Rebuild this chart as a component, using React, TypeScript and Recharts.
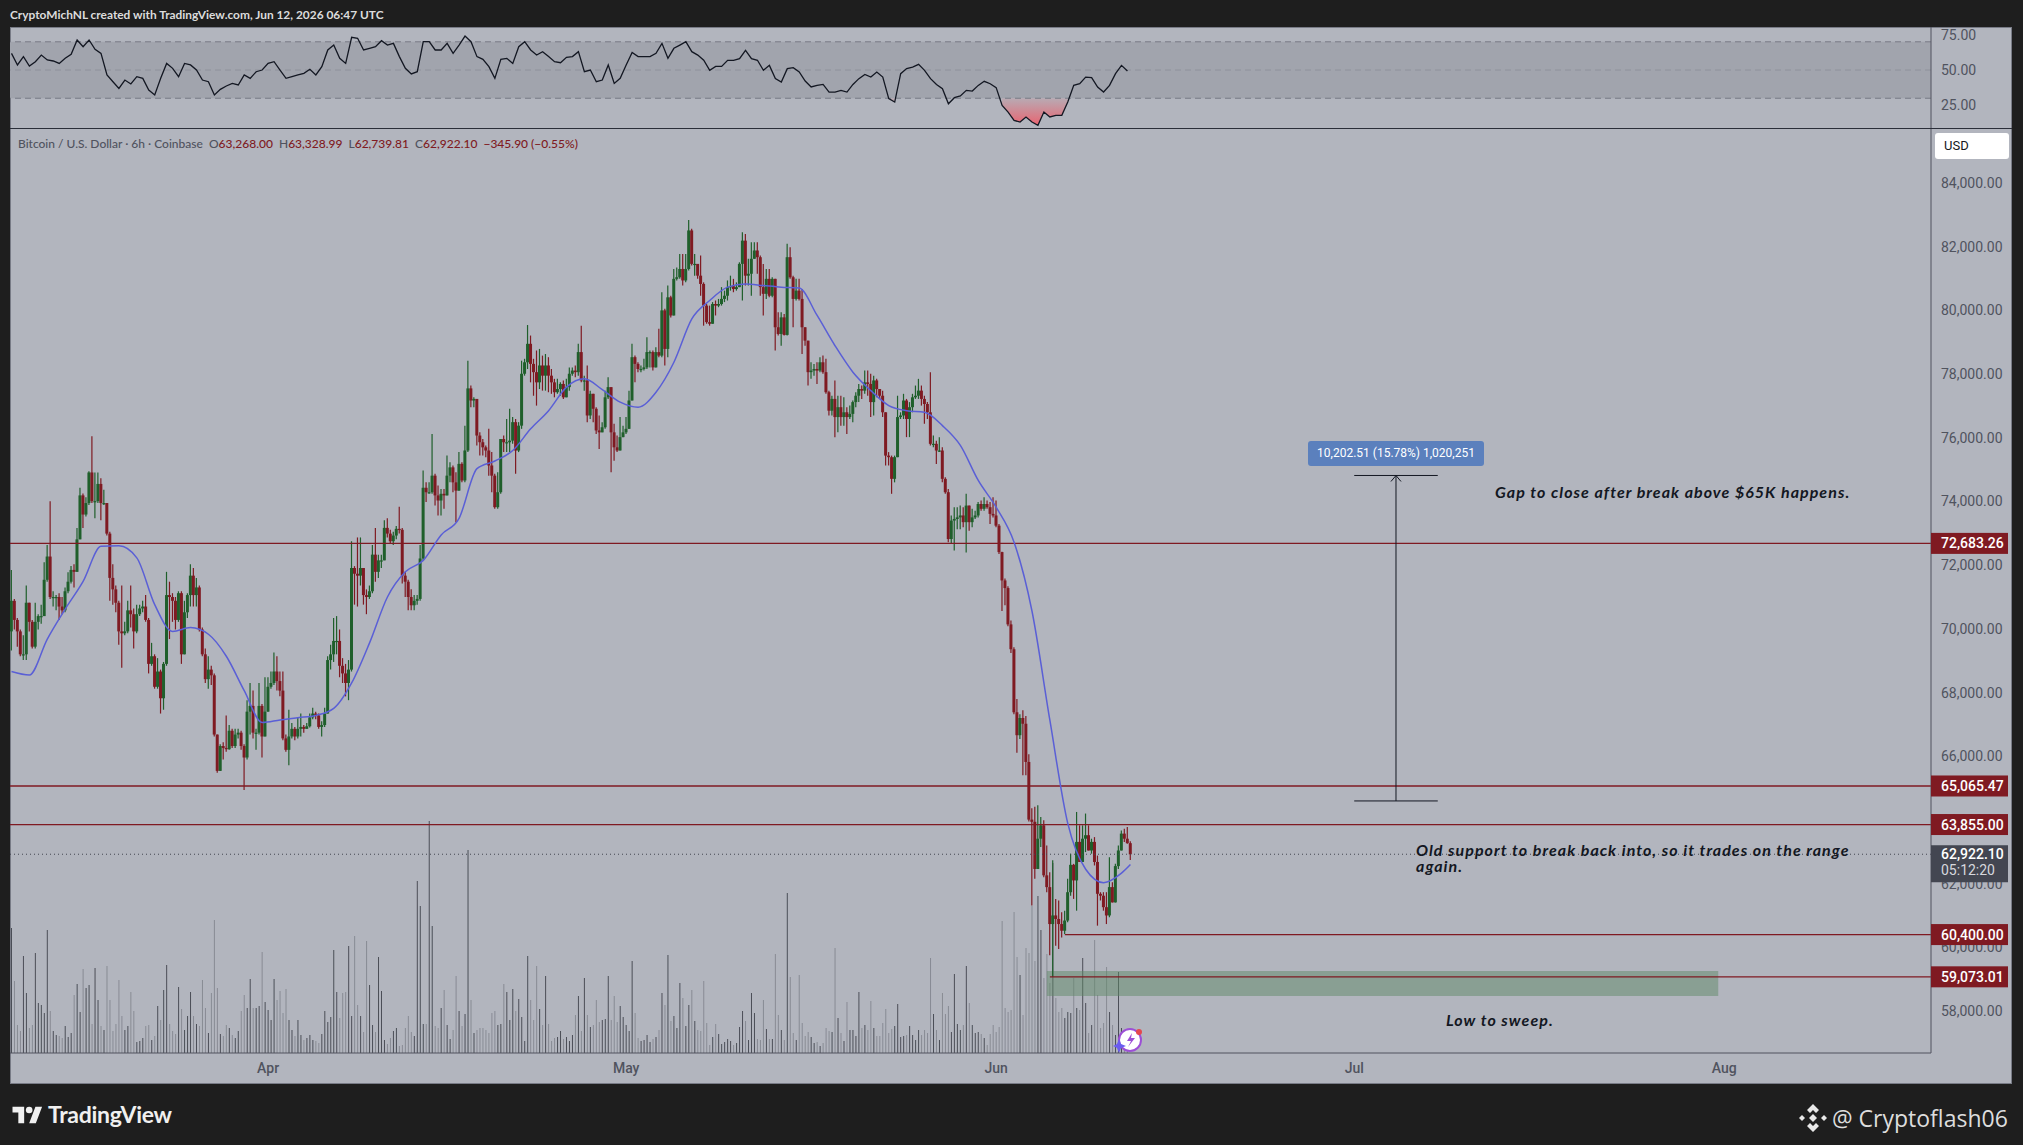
import { Area, Bar, Cell, ComposedChart, Line, ReferenceArea, ReferenceDot, ReferenceLine, XAxis, YAxis } from 'recharts';

// prices are in thousands of USD, one entry per 6h bar
const closes = [
  70.88,70.28,69.92,69.20,69.20,70.82,70.22,69.44,70.22,70.40,70.40,71.54,72.27,71.00,71.00,71.00,70.70,70.58,71.18,71.48,
  71.85,71.79,72.81,74.19,73.59,73.95,74.91,74.01,74.01,74.55,73.95,73.95,72.99,71.60,71.24,70.82,69.92,69.86,69.92,70.58,
  70.46,69.92,70.46,70.64,70.70,70.28,68.90,69.14,68.18,68.66,67.82,68.90,71.06,71.00,70.88,70.28,71.12,69.20,70.52,71.06,
  71.67,71.06,71.30,69.98,69.20,68.42,68.72,68.54,66.68,65.54,66.32,66.26,66.22,66.80,66.32,66.68,66.74,66.32,65.96,67.40,
  67.58,66.74,66.74,67.58,66.62,67.40,68.18,68.30,68.66,68.36,68.06,66.56,66.20,66.62,66.86,66.62,66.86,66.92,66.86,66.94,
  67.22,67.34,67.28,66.92,66.98,67.34,69.02,69.20,69.62,69.62,68.84,68.60,68.30,68.72,71.91,71.73,71.67,71.91,71.06,71.00,
  71.18,72.33,71.79,72.15,72.15,73.17,72.99,72.75,72.93,73.14,73.11,71.67,71.48,71.00,70.74,70.88,70.94,72.21,74.43,74.29,
  74.29,74.81,74.19,74.03,74.24,74.19,74.81,75.07,74.60,74.34,75.18,74.66,75.60,77.55,77.17,77.22,76.07,75.86,75.70,75.60,
  75.13,74.81,73.82,74.29,75.96,75.86,75.86,75.91,76.49,75.60,76.38,78.01,78.37,78.95,78.32,78.06,77.74,78.27,77.95,78.27,
  77.95,77.74,77.43,77.53,77.69,77.27,77.59,78.01,78.11,78.06,78.69,77.80,77.80,76.70,77.38,76.91,76.23,76.17,76.33,77.27,
  77.59,76.17,75.70,75.60,76.02,76.17,76.28,77.17,78.53,78.32,78.16,78.16,78.21,78.69,78.69,78.21,78.69,78.58,80.00,78.79,
  80.41,79.84,80.99,81.04,81.30,80.94,81.30,82.51,81.46,81.46,81.09,80.83,80.15,79.63,79.58,80.20,80.15,80.20,80.36,80.46,
  80.73,80.76,80.67,80.73,81.46,82.19,81.09,81.15,81.62,81.88,81.67,80.73,80.52,80.99,80.46,80.99,79.47,79.26,79.78,79.23,
  81.67,81.04,80.36,80.62,80.36,79.47,79.05,78.06,78.11,78.16,78.11,78.37,78.06,77.43,76.85,77.22,76.65,76.96,76.65,76.80,
  76.65,76.75,77.12,77.32,77.53,77.48,77.74,77.69,77.12,77.80,77.53,77.32,76.80,75.44,75.39,74.71,75.39,76.65,76.70,77.17,
  76.59,76.96,77.27,77.32,77.48,77.22,77.06,76.80,75.81,75.81,75.60,75.60,74.71,74.29,72.82,73.40,73.45,73.50,73.56,73.35,
  73.87,73.35,73.50,73.56,73.92,73.77,73.92,73.82,73.61,73.56,73.24,72.41,71.52,71.28,70.14,69.36,67.38,66.66,67.20,67.02,
  65.82,64.01,63.94,62.46,63.41,63.83,62.26,61.89,60.73,61.00,60.89,60.73,60.52,60.84,61.73,62.59,62.10,63.31,62.68,63.41,
  63.52,63.04,63.31,62.68,61.68,61.62,61.26,61.00,61.89,61.41,62.55,63.04,63.57,63.41,63.27,62.92,
];
const highs = [
  71.85,70.94,70.34,69.98,69.80,71.36,70.82,70.28,70.82,70.46,70.76,72.09,72.63,74.01,71.18,71.06,71.12,71.00,71.30,71.78,
  71.97,72.03,73.17,74.43,74.25,74.13,74.95,76.05,74.91,74.91,74.73,74.37,73.95,73.05,72.03,71.36,70.88,71.36,70.22,70.88,
  71.36,70.64,70.76,70.76,70.88,71.06,70.34,69.56,69.20,69.08,68.72,68.96,71.79,71.48,71.12,71.00,71.18,71.18,70.88,71.12,
  72.03,71.91,71.60,71.36,70.04,69.38,69.14,68.84,68.60,66.68,66.38,66.44,67.28,66.98,66.86,66.86,66.86,66.80,66.38,67.76,
  68.30,68.06,66.86,68.30,67.64,68.48,68.48,68.66,69.26,69.14,68.66,68.66,66.68,67.46,67.04,66.92,67.22,67.34,66.98,67.04,
  67.34,67.52,67.40,67.34,67.10,67.52,69.14,69.50,70.34,70.40,69.98,69.08,68.90,69.02,72.75,71.97,72.87,72.87,71.91,71.24,
  71.36,72.63,73.17,72.33,72.33,73.41,73.47,73.11,73.05,73.23,73.83,73.17,71.79,71.54,71.24,71.06,71.06,72.63,74.97,74.60,
  74.60,76.12,74.87,74.50,74.39,74.39,75.44,75.23,75.13,74.92,75.55,75.23,76.38,78.42,77.64,77.27,77.22,76.17,75.96,75.76,
  76.28,75.55,74.87,74.92,75.96,76.07,76.59,76.91,76.65,76.59,76.49,78.42,78.48,79.54,79.21,78.48,78.74,78.79,78.58,78.63,
  78.53,78.16,77.85,77.85,77.74,77.80,77.85,78.21,78.21,78.27,78.95,79.52,77.95,78.27,77.48,77.38,76.96,76.70,76.49,77.48,
  77.90,77.59,76.44,76.07,76.65,76.38,76.65,77.48,78.95,78.58,78.37,78.27,78.48,79.16,78.74,78.74,78.84,79.42,80.57,80.05,
  80.78,80.46,81.30,81.35,81.77,81.77,81.77,82.84,82.56,81.77,81.46,81.72,80.88,80.20,80.15,80.26,80.31,80.36,80.73,80.62,
  80.94,81.09,80.99,80.88,81.51,82.45,82.40,81.62,82.14,82.14,82.14,81.72,81.46,81.30,81.30,81.04,80.52,79.94,79.94,79.89,
  82.09,81.98,81.09,80.99,80.99,80.67,79.47,79.05,78.37,78.32,78.37,78.53,78.58,78.48,77.48,77.32,77.80,77.32,77.32,77.27,
  76.96,77.01,77.17,77.43,77.69,77.64,78.11,78.11,78.01,77.95,77.85,77.53,77.48,76.80,75.55,75.44,75.44,77.32,76.80,77.38,
  77.22,77.12,77.38,77.64,77.85,77.64,77.32,77.12,78.06,76.07,75.91,76.02,75.70,74.76,74.39,73.56,73.82,73.82,73.87,73.82,
  74.24,73.87,73.77,73.71,73.98,74.03,74.13,74.03,73.98,74.13,74.03,73.29,72.42,71.58,71.34,70.26,69.42,67.80,67.32,67.44,
  67.26,66.06,64.37,64.41,64.46,64.09,63.99,63.20,62.36,62.73,61.52,61.47,61.10,61.15,62.15,62.94,62.62,64.25,63.83,63.83,
  64.20,63.83,63.41,63.46,62.88,61.73,61.73,61.73,62.83,62.04,62.62,63.20,63.67,63.72,63.78,63.33,
];
const lows = [
  69.32,69.98,69.44,69.14,69.02,69.02,69.92,69.38,69.38,69.98,70.16,70.46,71.48,70.94,70.70,70.58,70.28,70.46,70.52,71.12,
  71.42,71.30,71.79,72.93,73.17,73.53,73.89,73.95,73.47,73.95,73.41,73.89,72.93,70.88,70.76,70.52,69.50,68.78,69.80,69.86,
  70.04,69.38,69.86,70.40,70.52,70.22,68.60,68.84,68.12,68.12,67.34,67.46,68.84,69.68,70.22,69.98,70.22,68.90,69.20,70.34,
  70.70,70.70,70.70,69.92,69.14,68.30,68.12,68.24,66.62,65.48,65.54,65.90,66.14,66.20,66.26,66.26,66.56,66.20,64.94,65.90,
  66.68,66.56,66.20,66.68,65.96,66.62,67.40,68.12,68.24,68.06,67.88,66.50,66.14,65.72,66.56,66.50,66.56,66.62,66.74,66.86,
  66.90,67.16,67.16,66.86,66.62,66.92,67.34,68.72,68.96,69.20,68.48,68.30,67.88,67.76,68.66,70.76,70.70,71.36,70.76,70.46,
  70.94,71.12,71.48,71.60,71.91,72.15,72.87,72.69,72.63,72.81,72.99,71.42,71.00,70.58,70.58,70.58,70.76,70.88,72.15,73.98,
  74.24,74.24,73.87,73.56,73.56,73.77,74.19,74.60,74.29,73.35,74.60,74.60,74.60,75.55,76.96,76.96,75.76,75.44,75.44,75.39,
  74.81,74.29,73.77,73.77,74.24,75.55,75.55,75.55,75.81,74.87,75.55,76.28,77.95,78.16,77.74,77.32,77.01,77.53,77.48,77.48,
  77.43,77.38,77.27,77.38,77.32,77.22,77.27,77.48,77.95,77.90,77.95,77.74,77.48,76.49,76.59,76.49,76.12,75.65,76.17,76.28,
  77.22,74.92,75.28,75.55,75.86,76.07,76.12,76.91,77.43,77.74,78.06,78.06,78.11,78.16,78.21,78.11,78.58,78.53,78.53,78.27,
  78.53,79.78,79.84,80.94,80.99,80.78,80.88,81.25,81.41,81.09,80.99,80.46,79.52,79.58,79.52,79.58,79.84,80.10,80.15,80.26,
  80.31,80.62,80.57,80.62,80.73,80.31,80.78,80.78,80.46,81.67,81.15,80.46,79.84,80.36,80.41,80.41,78.74,79.21,78.89,79.21,
  79.21,80.99,79.47,80.31,80.31,78.63,78.89,77.64,77.85,77.95,77.69,78.06,78.01,77.38,76.70,76.70,76.02,76.17,76.38,76.38,
  76.12,76.59,76.49,76.96,77.12,77.22,77.38,77.32,76.65,76.70,77.27,77.22,76.65,75.13,75.13,74.24,74.60,75.39,76.59,76.59,
  76.02,76.02,76.80,77.22,77.22,77.01,76.44,76.59,75.76,75.70,75.18,75.55,74.60,74.24,72.72,72.67,72.46,73.13,73.13,73.19,
  72.40,73.08,73.19,73.45,73.50,73.71,73.71,73.77,73.29,73.50,73.19,72.35,70.56,70.74,70.08,69.24,67.32,66.11,66.54,65.40,
  65.40,63.95,61.31,62.15,62.57,63.15,62.20,61.73,59.75,59.07,60.05,59.95,60.31,60.42,60.79,61.62,61.52,61.15,62.68,62.68,
  62.99,63.04,62.94,62.57,60.68,61.47,61.15,60.73,60.94,61.41,61.41,62.46,63.04,63.31,63.25,62.74,
];
const firstOpen = 69.92;
const volumes = [
  125,72,28,22,97,60,25,28,100,50,48,40,123,42,22,18,17,15,27,16,20,58,69,41,84,65,68,29,85,53,27,23,87,53,22,29,73,37,23,27,
  61,42,11,12,15,27,28,13,17,47,33,63,88,29,22,19,66,44,23,37,61,37,29,27,73,45,20,60,133,65,19,17,28,25,18,15,22,42,58,45,
  74,45,45,47,101,51,43,33,74,53,62,40,64,33,23,17,33,18,13,15,18,13,12,10,19,42,31,36,103,61,35,60,61,107,37,117,48,37,21,112,
  68,28,21,96,62,13,9,15,22,25,7,8,25,37,21,17,172,147,29,29,232,127,27,25,45,63,28,14,23,77,42,27,39,203,53,20,23,25,25,23,
  20,40,42,28,29,69,61,33,64,42,54,36,12,97,53,33,87,44,28,77,29,12,15,16,22,14,16,12,18,38,57,22,75,38,26,28,53,31,33,34,
  77,33,57,31,47,36,28,22,92,40,15,12,13,18,11,14,16,23,60,48,98,32,37,25,70,55,27,48,63,
  32,23,22,72,30,8,16,29,19,9,11,14,12,8,10,26,42,32,13,60,40,14,13,53,24,14,14,99,38,23,13,160,76,20,13,78,30,17,21,16,
  10,11,7,10,25,22,21,105,35,20,12,51,23,23,17,61,25,28,23,52,25,17,17,30,44,20,24,27,49,16,17,18,27,18,13,23,18,23,20,95,
  39,23,13,60,39,47,21,79,29,23,28,87,50,28,20,21,19,15,8,19,28,21,26,132,45,41,43,141,96,78,38,105,100,147,92,157,123,75,99,70,
  190,55,41,45,35,41,40,75,45,43,95,50,20,28,113,58,25,30,86,41,28,18,81,25,10,7,
];
// one RSI reading every 2 bars
const rsiValues = [
  61.8,53.6,59.5,52.8,55.9,60.6,57.1,56.4,54.7,58.3,61.1,71.3,66.5,71.3,64.7,61.8,46.5,41.7,37.0,42.9,
  40.1,45.3,44.1,35.8,32.3,44.1,54.7,51.2,45.3,54.7,53.6,50.0,42.9,41.7,32.3,36.3,38.7,40.5,39.4,46.5,
  44.1,48.8,50.0,54.7,55.9,50.0,44.1,45.3,46.5,47.6,50.5,46.5,52.4,64.2,67.7,58.3,54.7,73.2,72.5,64.2,
  65.4,66.5,70.8,67.7,68.9,59.5,51.2,47.2,48.8,70.1,70.1,64.2,64.2,68.9,61.8,67.7,74.1,70.1,59.5,57.6,
  52.4,44.1,57.6,58.3,54.7,66.5,70.1,64.2,60.6,63.0,59.5,55.9,55.2,59.0,59.5,63.0,48.8,50.0,41.7,42.9,
  53.6,40.5,44.1,53.6,62.5,59.5,59.5,59.5,61.8,68.9,58.3,65.4,67.7,70.1,63.0,60.6,
  56.9,49.8,52.6,52.6,56.9,56.9,58.0,64.0,58.0,56.9,49.8,53.3,43.9,41.5,51.0,51.7,48.6,42.2,38.0,
  39.1,39.8,34.4,34.4,35.6,34.4,39.8,43.9,46.9,45.0,48.6,45.0,29.7,27.3,47.4,51.0,52.1,54.0,49.8,43.9,
  39.8,36.8,26.1,30.4,31.6,35.6,35.1,39.1,42.0,40.3,37.5,24.9,20.2,14.3,13.1,16.7,13.1,10.8,20.2,16.7,
  17.9,17.9,27.3,39.1,40.3,45.0,44.6,37.9,34.4,39.1,47.4,53.3,49.3,
];
// moving average, one reading every 6 bars and the last bar
const maValues = [
  68.66,68.55,69.68,70.62,71.49,72.59,72.61,72.23,70.76,69.92,70.04,69.83,69.14,68.06,67.06,67.14,67.21,67.28,67.50,68.30,
  69.56,71.00,71.79,72.15,72.95,73.47,75.03,75.27,75.60,76.28,76.85,77.59,77.85,77.51,77.12,76.96,77.43,78.37,79.73,80.31,
  80.73,80.83,80.78,80.73,80.70,79.84,78.89,78.06,77.48,77.01,76.85,76.80,76.38,75.76,74.66,73.82,72.72,70.56,67.13,63.89,
  62.45,62.03,62.33,62.60,
];
const priceTicks = [58, 60, 62, 64, 66, 68, 70, 72, 74, 76, 78, 80, 82, 84];
const rsiTicks = [25, 50, 75];
const monthTicks = [86, 206, 330, 450, 574];
const monthLabels = ['Apr', 'May', 'Jun', 'Jul', 'Aug'];
const levels = [72.68326, 65.06547, 63.855, 60.4, 59.07301];
const levelLabels = ['72,683.26', '65,065.47', '63,855.00', '60,400.00', '59,073.01'];

const X_DOMAIN: [number, number] = [-0.5, 643.3];
const PRICE_DOMAIN: [number, number] = [56.681, 85.727];
const RED = '#7f1a22';
const GREEN = '#1f5f2b';
const AXIS_TEXT = '#50535e';
const FONT = 'Roboto, sans-serif';

const rows = closes.map((close, i) => {
  const open = i === 0 ? firstOpen : closes[i - 1];
  return {
    bar: i,
    open,
    close,
    range: [Math.min(lows[i], open, close), Math.max(highs[i], open, close)],
    volume: volumes[i] ?? 0,
  };
});
const lastBar = rows.length - 1;
const maRows = maValues.map((ma, k) => ({ bar: Math.min(k * 6, lastBar), ma }));
const rsiRows = rsiValues.map((rsi, k) => ({ bar: k * 2, rsi, oversold: rsi < 30 ? [rsi, 30] : null }));
const priceRows = [...rows, ...maRows].sort((a, b) => a.bar - b.bar);

const Candle = (props: any) => {
  const { x, y, width, height, payload } = props;
  if (!payload || !payload.range) return null;
  const [low, high] = payload.range;
  const perUnit = height / (high - low || 1);
  const top = y + (high - Math.max(payload.open, payload.close)) * perUnit;
  const bodyHeight = Math.max(Math.abs(payload.open - payload.close) * perUnit, 1.2);
  const color = payload.close >= payload.open ? GREEN : RED;
  const cx = x + width / 2;
  return (
    <g>
      <line x1={cx} x2={cx} y1={y} y2={y + height} stroke={color} strokeWidth={1.2} />
      <rect x={cx - 1.5} y={top} width={3} height={bodyHeight} fill={color} />
    </g>
  );
};

const LevelTag = ({ cx, cy, label }: any) => (
  <g>
    <rect x={cx} y={cy - 10.5} width={77} height={21} fill={RED} />
    <text x={cx + 10} y={cy + 5} fill="#fff" fontSize={14} fontWeight={500} fontFamily={FONT}>{label}</text>
  </g>
);

const LastPriceTag = ({ cx, cy }: any) => (
  <g>
    <rect x={cx} y={cy - 9} width={77} height={37} fill="#434651" />
    <text x={cx + 10} y={cy + 5} fill="#fff" fontSize={14} fontWeight={500} fontFamily={FONT}>62,922.10</text>
    <text x={cx + 10} y={cy + 21} fill="#d6d8de" fontSize={14} fontFamily={FONT}>05:12:20</text>
  </g>
);

const ArrowHead = ({ cx, cy }: any) => (
  <path d={`M${cx - 5} ${cy + 6}L${cx} ${cy}L${cx + 5} ${cy + 6}`} fill="none" stroke="#131722" strokeWidth={1} />
);

const note = (left: number, top: number, text: string) => (
  <div style={{ position: 'absolute', left, top, fontFamily: 'Lato, sans-serif', fontStyle: 'italic', fontWeight: 700, fontSize: 16, letterSpacing: 1.04, color: '#131722', lineHeight: '16px', whiteSpace: 'nowrap' }}>
    {text}
  </div>
);

export default function App() {
  const paneLeft = 10;
  const chartWidth = 2002;
  return (
    <div style={{ position: 'absolute', left: 0, top: 0, width: 2023, height: 1145, background: '#1e1e1e', overflow: 'hidden' }}>
      <div style={{ position: 'absolute', left: 10, top: 7, fontFamily: 'Lato, sans-serif', fontSize: 11.9, fontWeight: 700, color: '#dcdcdc', whiteSpace: 'nowrap' }}>
        CryptoMichNL created with TradingView.com, Jun 12, 2026 06:47 UTC
      </div>
      <div style={{ position: 'absolute', left: paneLeft, top: 27, width: chartWidth, height: 1057, background: '#b2b5be', boxShadow: 'inset 0 0 0 1px #787b86' }} />

      {/* RSI pane */}
      <div style={{ position: 'absolute', left: paneLeft, top: 27 }}>
        <ComposedChart width={chartWidth} height={101} data={rsiRows} margin={{ top: 0, right: 0, bottom: 0, left: 0 }}>
          <XAxis type="number" dataKey="bar" domain={X_DOMAIN} hide allowDataOverflow />
          <YAxis orientation="right" type="number" domain={[8.9, 80.5]} ticks={rsiTicks} width={81} allowDataOverflow interval={0}
            axisLine={{ stroke: AXIS_TEXT }} tickLine={false} tick={{ fill: AXIS_TEXT, fontSize: 14, fontFamily: FONT }} tickFormatter={(v: number) => v.toFixed(2)} tickMargin={4} />
          <ReferenceArea y1={30} y2={70} fill="#a1a4ad" fillOpacity={1} stroke="none" />
          <ReferenceLine y={70} stroke="#787b86" strokeDasharray="6 4" />
          <ReferenceLine y={50} stroke="#8f929c" strokeDasharray="6 4" />
          <ReferenceLine y={30} stroke="#787b86" strokeDasharray="6 4" />
          <defs>
            <linearGradient id="oversoldFill" x1="0" y1="0" x2="0" y2="1">
              <stop offset="0%" stopColor="#b9a9b2" stopOpacity={0.9} />
              <stop offset="100%" stopColor="#ec5f6c" stopOpacity={0.95} />
            </linearGradient>
          </defs>
          <Area dataKey="oversold" stroke="none" fill="url(#oversoldFill)" fillOpacity={1} isAnimationActive={false} dot={false} activeDot={false} />
          <Line dataKey="rsi" stroke="#131722" strokeWidth={1.3} dot={false} activeDot={false} isAnimationActive={false} />
        </ComposedChart>
      </div>

      {/* volume sits under the price pane */}
      <div style={{ position: 'absolute', left: paneLeft, top: 128 }}>
        <ComposedChart width={chartWidth} height={956} data={rows} margin={{ top: 0, right: 81, bottom: 31, left: 0 }}>
          <XAxis type="number" dataKey="bar" domain={X_DOMAIN} hide allowDataOverflow height={31} />
          <YAxis type="number" domain={[0, 925]} hide allowDataOverflow />
          <Bar dataKey="volume" barSize={1} isAnimationActive={false}>
            {rows.map((row, index) => (
              <Cell key={`vol-${index}`} fill={row.close >= row.open ? '#4b4e57' : '#888b94'} />
            ))}
          </Bar>
        </ComposedChart>
      </div>

      {/* price pane */}
      <div style={{ position: 'absolute', left: paneLeft, top: 128 }}>
        <ComposedChart width={chartWidth} height={956} data={priceRows} margin={{ top: 0, right: 0, bottom: 0, left: 0 }}>
          <XAxis type="number" dataKey="bar" domain={X_DOMAIN} ticks={monthTicks} height={31} allowDataOverflow interval={0}
            axisLine={{ stroke: AXIS_TEXT }} tickLine={false} tick={{ fill: AXIS_TEXT, fontSize: 14, fontWeight: 500, fontFamily: FONT }}
            tickFormatter={(v: number) => monthLabels[monthTicks.indexOf(v)]} tickMargin={4} />
          <YAxis orientation="right" type="number" domain={PRICE_DOMAIN} ticks={priceTicks} width={81} allowDataOverflow interval={0}
            axisLine={{ stroke: AXIS_TEXT }} tickLine={false} tick={{ fill: AXIS_TEXT, fontSize: 14, fontFamily: FONT }}
            tickFormatter={(v: number) => `${v},000.00`} tickMargin={4} />
          <ReferenceArea x1={347} x2={572} y1={58.474} y2={59.259} fill="#5f8a68" fillOpacity={0.5} stroke="none" />
          <ReferenceLine y={levels[0]} stroke={RED} strokeWidth={1.3} />
          <ReferenceLine y={levels[1]} stroke={RED} strokeWidth={1.3} />
          <ReferenceLine y={levels[2]} stroke={RED} strokeWidth={1.3} />
          <ReferenceLine stroke={RED} strokeWidth={1.3} segment={[{ x: 353, y: levels[3] }, { x: X_DOMAIN[1], y: levels[3] }]} />
          <ReferenceLine stroke={RED} strokeWidth={1.3} segment={[{ x: 348, y: levels[4] }, { x: X_DOMAIN[1], y: levels[4] }]} />
          <ReferenceLine y={62.9221} stroke="#434651" strokeDasharray="1 3" />
          <ReferenceLine stroke="#131722" segment={[{ x: 450, y: 74.816 }, { x: 478, y: 74.816 }]} />
          <ReferenceLine stroke="#131722" segment={[{ x: 450, y: 64.596 }, { x: 478, y: 64.596 }]} />
          <ReferenceLine stroke="#131722" segment={[{ x: 464, y: 74.816 }, { x: 464, y: 64.596 }]} />
          <ReferenceDot x={464} y={74.816} r={0} ifOverflow="visible" shape={<ArrowHead />} />
          <Bar dataKey="range" barSize={3} isAnimationActive={false} shape={<Candle />} />
          <Line dataKey="ma" stroke="#5a5fd6" strokeWidth={1.5} type="monotone" connectNulls dot={false} activeDot={false} isAnimationActive={false} />
        </ComposedChart>
      </div>

      {/* axis tags go over the tick labels */}
      <div style={{ position: 'absolute', left: paneLeft, top: 128 }}>
        <ComposedChart width={chartWidth} height={956} data={rows} margin={{ top: 0, right: 81, bottom: 31, left: 0 }}>
          <XAxis type="number" dataKey="bar" domain={X_DOMAIN} hide allowDataOverflow height={31} />
          <YAxis type="number" domain={PRICE_DOMAIN} hide allowDataOverflow />
          {levels.map((level, index) => (
            <ReferenceDot key={levelLabels[index]} x={X_DOMAIN[1]} y={level} r={0} ifOverflow="visible" shape={<LevelTag label={levelLabels[index]} />} />
          ))}
          <ReferenceDot x={X_DOMAIN[1]} y={62.9221} r={0} ifOverflow="visible" shape={<LastPriceTag />} />
        </ComposedChart>
      </div>

      <div style={{ position: 'absolute', left: paneLeft, top: 128, width: chartWidth, height: 1, background: '#2a2e39' }} />

      <div style={{ position: 'absolute', left: 18, top: 136, fontFamily: 'Lato, sans-serif', fontSize: 12, color: AXIS_TEXT, whiteSpace: 'nowrap', fontWeight: 500 }}>
        Bitcoin / U.S. Dollar · 6h · Coinbase&nbsp;&nbsp;O<span style={{ color: RED }}>63,268.00</span>&nbsp;&nbsp;H<span style={{ color: RED }}>63,328.99</span>&nbsp;&nbsp;L<span style={{ color: RED }}>62,739.81</span>&nbsp;&nbsp;C<span style={{ color: RED }}>62,922.10</span>&nbsp;&nbsp;<span style={{ color: RED }}>−345.90 (−0.55%)</span>
      </div>
      <div style={{ position: 'absolute', left: 1935, top: 133, width: 74, height: 26, background: '#fff', borderRadius: 3, fontFamily: FONT, fontSize: 13, color: '#131722', lineHeight: '26px', paddingLeft: 9, boxSizing: 'border-box' }}>USD</div>
      <div style={{ position: 'absolute', left: 1308, top: 441, width: 176, height: 25, background: '#5b80bd', borderRadius: 3, fontFamily: FONT, fontSize: 12, color: '#fff', lineHeight: '25px', textAlign: 'center' }}>
        10,202.51 (15.78%) 1,020,251
      </div>
      {note(1495, 484, 'Gap to close after break above $65K happens.')}
      {note(1416, 842, 'Old support to break back into, so it trades on the range')}
      {note(1416, 858, 'again.')}
      {note(1446, 1012, 'Low to sweep.')}

      <svg style={{ position: 'absolute', left: 1113, top: 1027 }} width={32} height={27} viewBox="0 0 32 27">
        <circle cx={17} cy={13} r={11} fill="#fff" stroke="#9c4fd6" strokeWidth={2} />
        <path d="M19 6L14 14H18L15 20L22 11H18Z" fill="#9c4fd6" />
        <path d="M6 12L8 17L13 19L8 21L6 26L4 21L0 19L4 17Z" fill="#6a5cf0" />
        <circle cx={26} cy={5} r={3} fill="#e5484d" />
      </svg>

      <svg style={{ position: 'absolute', left: 12, top: 1105 }} width={31} height={20} viewBox="0 0 36 24" fill="#f0f0f0">
        <path d="M14 22H7V9H0V2h14v20zM28 22h-8l7.5-20h8L28 22z" />
        <circle cx={20} cy={6} r={4} />
      </svg>
      <div style={{ position: 'absolute', left: 48, top: 1100, fontFamily: 'Lato, sans-serif', fontSize: 23, fontWeight: 700, color: '#f0f0f0', letterSpacing: -0.3, whiteSpace: 'nowrap' }}>TradingView</div>

      <svg style={{ position: 'absolute', left: 1799, top: 1104 }} width={28} height={28} viewBox="0 0 28 28" fill="#e8e8e8">
        <path d="M14 0L20 6L17 9L14 6L11 9L8 6Z" />
        <path d="M14 28L8 22L11 19L14 22L17 19L20 22Z" />
        <path d="M0 14L3 11L6 14L3 17Z" />
        <path d="M28 14L25 11L22 14L25 17Z" />
        <path d="M14 10L18 14L14 18L10 14Z" />
      </svg>
      <div style={{ position: 'absolute', left: 1832, top: 1102, fontFamily: '"Open Sans", sans-serif', fontSize: 23, color: '#dddddd', whiteSpace: 'nowrap' }}>@ Cryptoflash06</div>
    </div>
  );
}
